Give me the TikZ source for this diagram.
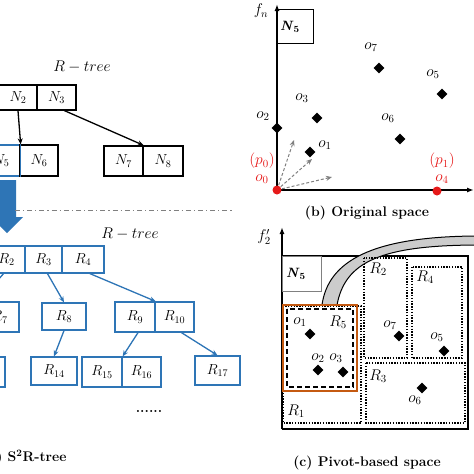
\RequirePackage{fix-cm}
\documentclass[tikz,border=0pt]{standalone}
\usetikzlibrary{shapes.geometric,arrows.meta}
\definecolor{treeblue}{RGB}{46,117,182}
\definecolor{pivred}{RGB}{230,25,25}
\definecolor{boxorange}{RGB}{197,90,17}
\begin{document}
\begin{tikzpicture}[x=1pt,y=-1pt]
\tikzstyle{black cell}=[rectangle,draw,line width=1.3pt,inner sep=0,minimum height=30pt,font=\fontsize{14.5}{16}\selectfont]
\tikzstyle{blue cell}=[black cell,draw=treeblue]
\tikzset{
	tree arrow/.style={-{Stealth[length=6pt,width=5pt]},line width=1.3pt},
	blue arrow/.style={tree arrow,draw=treeblue,fill=treeblue},
	point/.style={diamond,fill=black,inner sep=0,minimum size=11pt},
	pivot/.style={circle,fill=pivred,inner sep=0,minimum size=9pt},
	obj/.style={font=\fontsize{15.5}{17}\selectfont},
	red obj/.style={obj,text=pivred,inner sep=1pt},
	region/.style={draw,line width=1.4pt,dash pattern=on 1.4pt off 1.4pt},
	caption/.style={font=\fontsize{14}{16}\selectfont\bfseries},
	axis/.style={line width=1.5pt,-{Latex[length=7pt,width=5pt]}},
	leaf box/.style={font=\fontsize{13.5}{15}\selectfont\bfseries,inner sep=3pt,align=left}
}
\useasboundingbox (0,0) rectangle (474,474);

% (a) R-tree and S2R-tree
\node[obj] (rt1) at (82,67) {$R-tree$};
\node[black cell,minimum width=38pt,minimum height=25pt] (n2) at (18,97.5) {$N_2$};
\node[black cell,minimum width=39pt,minimum height=25pt] (n3) at (56.5,97.5) {$N_3$};
\node[blue cell,minimum width=38pt,minimum height=31pt] (n5) at (1,160.5) {$N_5$};
\node[black cell,minimum width=38pt,minimum height=31pt] (n6) at (39,160.5) {$N_6$};
\node[black cell,minimum width=39pt] (n7) at (123.5,161) {$N_7$};
\node[black cell,minimum width=40pt] (n8) at (163,161) {$N_8$};
\draw[treeblue,line width=1.3pt] (n5.north east) -- (n5.south east);
\draw[tree arrow] (n2.south) -- (n5.north east);
\draw[tree arrow] ([xshift=8pt]n3.south) -- (n7.north east);

\fill[treeblue] (-2,180) -- (16,180) -- (16,217) -- (23,217) -- (7,233) -- (-9,217) -- (-2,217) -- cycle;
\draw[gray,line width=1pt,dash pattern=on 5pt off 3pt on 1.2pt off 3pt] (15,210) -- (232,210);

\node[obj] (rt2) at (130,234) {$R-tree$};
\node[blue cell,minimum width=37pt,minimum height=27pt] (r2) at (6.5,259.5) {$R_2$};
\node[blue cell,minimum width=37pt,minimum height=27pt] (r3) at (43.5,259.5) {$R_3$};
\node[blue cell,minimum width=42pt,minimum height=27pt] (r4) at (83,259.5) {$R_4$};
\node[blue cell,minimum width=39pt] (r7) at (-0.5,317) {$R_7$};
\node[blue cell,minimum width=44pt,minimum height=27pt] (r8) at (64,316.5) {$R_8$};
\node[blue cell,minimum width=40pt] (r9) at (135,317) {$R_9$};
\node[blue cell,minimum width=39pt] (r10) at (174.5,317) {$R_{10}$};
\node[blue cell,minimum width=40pt] (r13) at (-15,372) {};
\node[blue cell,minimum width=46pt,minimum height=28pt] (r14) at (54,371) {$R_{14}$};
\node[blue cell,minimum width=40pt] (r15) at (102,372) {$R_{15}$};
\node[blue cell,minimum width=39pt] (r16) at (141.5,372) {$R_{16}$};
\node[blue cell,minimum width=45pt,minimum height=29pt] (r17) at (217.5,370.5) {$R_{17}$};
\draw[blue arrow] ([xshift=-3pt]r2.south) -- (r7.north west);
\draw[blue arrow] ([xshift=4pt]r3.south) -- (r8.north);
\draw[blue arrow] ([xshift=7pt]r4.south) -- (r9.north east);
\draw[blue arrow] (r8.south) -- (r14.north);
\draw[blue arrow] ([xshift=3pt]r9.south) -- (r15.north east);
\draw[blue arrow] ([xshift=7pt]r10.south) -- (r17.north);
\node[caption] (dots) at (149,411) {......};
\node[caption,anchor=east] (capa) at (70,458) {(a) S\textsuperscript{2}R-tree};

% (b) Original space
\coordinate (b0) at (277,190);
\coordinate (by) at (277,4);
\coordinate (bx) at (474,190);
\draw[axis] (b0) -- (by);
\draw[axis] (b0) -- (bx);
\node[obj] (fn) at (261,11) {$f_n$};
\node[draw,line width=1pt,minimum width=36pt,minimum height=34pt,anchor=north west] (n5b) at (277,9) {};
\node[leaf box,anchor=west] (ln5b) at (n5b.west) {\textit{N}\textsubscript{5}};
\node[point] (o7) at (379,68) {};
\node[point] (o5) at (442,94) {};
\node[point] (o3) at (317,118) {};
\node[point] (o2) at (277,128) {};
\node[point] (o6) at (400,139) {};
\node[point] (o1) at (310,152) {};
\node[obj] (lo7) at (371,47) {$o_7$};
\node[obj] (lo5) at (433,74) {$o_5$};
\node[obj] (lo3) at (302,98) {$o_3$};
\node[obj] (lo2) at (263,116) {$o_2$};
\node[obj] (lo6) at (388,118) {$o_6$};
\node[obj] (lo1) at (325,145) {$o_1$};
\coordinate (d1) at (294,140);
\coordinate (d2) at (312,159);
\coordinate (d3) at (332,177);
\foreach \dir in {d1,d2,d3}
	\draw[gray,line width=1pt,dash pattern=on 3pt off 2pt,-{Stealth[length=6pt,width=5pt]}] (b0) -- (\dir);
\node[pivot] (o0) at (b0) {};
\node[pivot] (o4) at (437,191) {};
\node[red obj] (p0) at (262,161) {$(p_0)$};
\node[red obj] (lo0) at (262,179) {$o_0$};
\node[red obj] (p1) at (442,161) {$(p_1)$};
\node[red obj] (lo4) at (442,179) {$o_4$};
\node[caption] (capb) at (367,213) {(b) Original space};

% (c) Pivot-based space
\coordinate (c0) at (282,429);
\coordinate (cy) at (282,227);
\coordinate (cx) at (468,429);
\coordinate (ct) at (468,256);
\draw[axis] (c0) -- (cy);
\draw[line width=1.5pt] (c0) -- (cx) -- (ct) -- (282,256);
\node[obj] (f2) at (264,237) {$f'_2$};
\node[draw=gray,line width=0.8pt,minimum width=39pt,minimum height=35pt,anchor=north west] (n5c) at (282,256) {};
\node[leaf box,anchor=west] (ln5c) at ([xshift=1pt]n5c.west) {\textit{N}\textsubscript{5}};
\filldraw[fill=gray!40,line width=1pt] (322,305) .. controls (328,262) and (370,236) .. (480,236) -- (480,245) .. controls (380,245) and (345,262) .. (337,305) -- cycle;
\draw[region] (283,306) rectangle (361,423);
\draw[region] (364,258) rectangle (407,358);
\draw[region] (412,267) rectangle (462,358);
\draw[region] (366,363) rectangle (465,423);
\draw[boxorange,line width=2.5pt] (283,305) rectangle (357,391);
\draw[line width=1.4pt,dash pattern=on 5pt off 3pt] (287,309) rectangle (353,387);
\node[obj] (lr1) at (296,411) {$R_1$};
\node[obj] (lr2) at (378,269) {$R_2$};
\node[obj] (lr3) at (378,376) {$R_3$};
\node[obj] (lr4) at (425,277) {$R_4$};
\node[obj] (lr5) at (338,322) {$R_5$};
\node[point] (c1) at (310,334) {};
\node[point] (c2) at (318,370) {};
\node[point] (c3) at (343,372) {};
\node[point] (c7) at (399,336) {};
\node[point] (c5) at (444,351) {};
\node[point] (c6) at (422,388) {};
\node[obj] (lc1) at (300,322) {$o_1$};
\node[obj] (lc2) at (318,358) {$o_2$};
\node[obj] (lc3) at (336,358) {$o_3$};
\node[obj] (lc7) at (390,325) {$o_7$};
\node[obj] (lc5) at (437,337) {$o_5$};
\node[obj] (lc6) at (415,400) {$o_6$};
\node[caption] (capc) at (367,463) {(c) Pivot-based space};
\end{tikzpicture}
\end{document}
